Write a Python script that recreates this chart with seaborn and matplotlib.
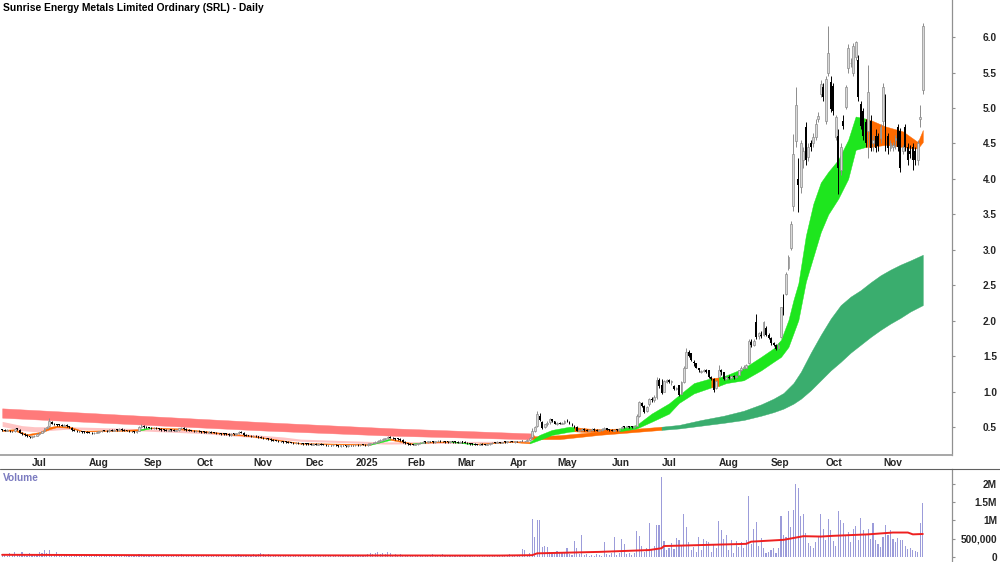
import numpy as np
import pandas as pd
import matplotlib
matplotlib.use("Agg")
import matplotlib.pyplot as plt
from matplotlib.lines import Line2D
import seaborn as sns

title = "Sunrise Energy Metals Limited Ordinary (SRL) - Daily"
first_day = "2024-06-13"
last_day = "2025-11-25"
holidays = ["2024-12-25", "2024-12-26", "2025-01-01", "2025-01-27",
            "2025-04-18", "2025-04-21", "2025-04-25", "2025-06-09"]

opens = [
    .46,.46,.45,.45,.44,.44,.47,.46,.42,.40, .39,.37,.36,.37,.38,.40,.42,.44,.48,.51,
    .57,.55,.54,.53,.53,.52,.53,.51,.49,.46, .45,.44,.44,.43,.43,.42,.42,.41,.42,.43,
    .44,.45,.45,.44,.46,.45,.46,.46,.47,.46, .45,.45,.44,.44,.43,.45,.50,.52,.50,.49,
    .49,.48,.49,.48,.47,.46,.46,.45,.46,.46, .45,.46,.48,.49,.47,.46,.45,.45,.44,.45,
    .44,.43,.43,.42,.43,.42,.42,.41,.41,.40, .40,.40,.39,.40,.40,.41,.43,.42,.39,.38,
    .38,.37,.38,.37,.36,.35,.34,.34,.33,.32, .31,.31,.30,.30,.29,.29,.28,.28,.27,.28,
    .27,.27,.26,.26,.26,.25,.26,.25,.26,.25, .25,.24,.24,.24,.25,.24,.23,.24,.24,.23,
    .24,.24,.24,.25,.24,.25,.25,.24,.26,.27, .28,.29,.31,.32,.33,.34,.36,.35,.34,.33,
    .33,.32,.29,.27,.26,.25,.25,.26,.27,.28, .29,.29,.30,.30,.29,.30,.31,.30,.30,.29,
    .29,.30,.29,.29,.28,.29,.29,.28,.27,.26, .26,.25,.25,.26,.25,.25,.26,.27,.28,.28,
    .28,.28,.29,.29,.30,.30,.29,.30,.30,.31, .30,.31,.32,.36,.45,.52,.66,.57,.50,.54,
    .57,.61,.58,.55,.56,.55,.56,.59,.57,.55, .52,.50,.45,.46,.47,.46,.45,.46,.47,.46,
    .45,.46,.47,.48,.46,.46,.45,.46,.46,.48, .50,.50,.51,.50,.50,.52,.66,.84,.80,.72,
    .82,.89,.88,.92,1.16,1.10,1.00,1.14,1.16,1.13, 1.08,1.04,1.09,.97,1.13,1.34,1.56,1.54,1.42,1.40,
    1.33,1.28,1.29,1.31,1.30,1.20,1.18,1.05,1.21,1.30, 1.27,1.18,1.21,1.19,1.22,1.20,1.24,1.30,1.34,1.34,
    1.40,1.70,1.66,1.98,1.78,1.80,1.80,1.90,1.80,1.75, 1.68,1.66,1.62,1.77,2.33,2.38,2.75,3.03,3.62,4.54,
    4.00,3.88,4.26,4.73,4.31,4.50,4.50,4.59,4.85,5.20, 5.29,4.82,5.50,5.36,5.31,4.59,4.61,4.12,4.82,5.01,
    5.57,5.63,5.50,5.72,5.67,5.05,4.96,4.80,4.68,4.82, 4.50,4.61,4.61,4.57,4.82,5.15,4.61,4.43,4.45,4.55,
    4.73,4.68,4.40,4.73,4.45,4.40,4.45,4.40,4.26,4.85, 5.25]
highs = [
    .47,.47,.47,.46,.45,.49,.48,.47,.43,.41, .40,.38,.38,.39,.41,.43,.45,.49,.52,.63,
    .58,.56,.55,.54,.54,.54,.54,.52,.50,.47, .46,.45,.45,.44,.44,.43,.43,.43,.44,.45,
    .46,.46,.46,.47,.47,.47,.47,.48,.48,.47, .46,.46,.45,.45,.45,.52,.54,.53,.51,.50,
    .50,.50,.50,.49,.48,.47,.47,.47,.47,.47, .47,.49,.50,.50,.48,.47,.46,.46,.46,.46,
    .45,.44,.44,.44,.44,.43,.43,.42,.42,.41, .41,.41,.41,.41,.42,.44,.44,.43,.40,.39,
    .39,.39,.39,.38,.37,.36,.35,.35,.34,.33, .32,.32,.31,.31,.30,.30,.29,.29,.29,.29,
    .28,.28,.27,.27,.27,.27,.27,.27,.27,.26, .26,.25,.25,.26,.26,.25,.25,.25,.25,.25,
    .25,.25,.26,.26,.26,.26,.26,.27,.28,.29, .30,.32,.33,.34,.35,.38,.37,.36,.35,.34,
    .34,.33,.30,.28,.27,.26,.27,.28,.29,.30, .30,.31,.31,.31,.31,.32,.32,.31,.31,.30,
    .31,.31,.30,.30,.30,.30,.30,.29,.28,.27, .27,.26,.27,.27,.26,.27,.28,.29,.29,.30,
    .29,.29,.30,.30,.31,.31,.30,.31,.31,.32, .31,.33,.36,.48,.52,.73,.70,.59,.55,.58,
    .63,.62,.59,.57,.57,.57,.60,.61,.58,.56, .53,.51,.47,.48,.48,.47,.47,.48,.48,.47,
    .47,.48,.50,.49,.47,.47,.47,.47,.48,.51, .51,.52,.52,.51,.52,.68,.87,.86,.81,.80,
    .91,.92,.95,1.20,1.19,1.18,1.17,1.18,1.18,1.16, 1.10,1.07,1.10,1.15,1.36,1.61,1.58,1.55,1.44,1.41,
    1.34,1.31,1.32,1.32,1.31,1.22,1.19,1.16,1.38,1.32, 1.28,1.22,1.23,1.22,1.23,1.23,1.31,1.36,1.37,1.39,
    1.74,1.74,1.74,2.10,1.84,1.86,2.00,1.93,1.82,1.77, 1.70,1.67,1.68,2.20,2.38,2.68,2.92,3.40,4.64,5.29,
    4.30,4.55,4.45,4.80,4.50,4.55,4.65,4.85,4.95,5.40, 5.35,5.45,6.16,5.45,5.35,4.90,4.70,4.50,4.90,5.32,
    5.90,5.70,5.92,5.95,5.75,5.10,5.00,4.85,5.60,4.90, 4.62,4.70,4.65,4.78,5.35,5.20,4.65,4.55,4.52,4.62,
    4.78,4.72,4.48,4.78,4.50,4.48,4.50,4.45,4.55,5.04, 6.20]
lows = [
    .45,.44,.44,.43,.43,.43,.46,.41,.39,.38, .36,.35,.35,.36,.37,.39,.41,.43,.47,.50,
    .54,.53,.52,.52,.51,.51,.50,.49,.45,.44, .43,.43,.42,.42,.41,.41,.40,.40,.41,.42,
    .43,.44,.43,.43,.44,.44,.45,.45,.45,.44, .44,.43,.43,.42,.42,.44,.49,.49,.48,.48,
    .47,.47,.47,.46,.45,.45,.44,.44,.45,.44, .44,.45,.47,.46,.45,.44,.44,.43,.43,.43,
    .42,.42,.41,.41,.41,.41,.40,.40,.39,.39, .39,.38,.38,.39,.39,.40,.41,.38,.37,.37,
    .36,.36,.36,.35,.34,.33,.33,.32,.31,.30, .30,.29,.29,.28,.28,.27,.27,.26,.26,.26,
    .26,.25,.25,.25,.24,.24,.24,.24,.24,.24, .23,.23,.23,.23,.23,.22,.22,.23,.22,.22,
    .23,.23,.23,.23,.23,.24,.23,.23,.25,.26, .27,.28,.30,.31,.32,.33,.34,.33,.32,.32,
    .31,.28,.26,.25,.24,.24,.24,.25,.26,.27, .28,.28,.29,.28,.28,.29,.29,.29,.28,.28,
    .28,.28,.28,.27,.27,.28,.27,.26,.25,.25, .24,.24,.24,.24,.24,.24,.25,.26,.27,.27,
    .27,.28,.28,.28,.29,.29,.28,.29,.29,.30, .29,.30,.31,.35,.43,.50,.58,.47,.48,.52,
    .55,.57,.54,.53,.54,.54,.55,.57,.54,.52, .48,.44,.44,.45,.45,.44,.44,.45,.45,.45,
    .44,.45,.46,.46,.45,.44,.44,.45,.45,.47, .49,.49,.49,.49,.49,.51,.64,.78,.70,.71,
    .80,.86,.86,.90,1.05,.96,.99,1.12,1.12,1.10, 1.02,1.02,.94,.96,1.12,1.33,1.49,1.43,1.36,1.33,
    1.28,1.26,1.27,1.26,1.19,1.17,1.00,1.03,1.20,1.24, 1.17,1.17,1.18,1.18,1.18,1.19,1.23,1.29,1.32,1.33,
    1.39,1.63,1.64,1.74,1.74,1.76,1.79,1.78,1.74,1.66, 1.64,1.58,1.60,1.75,2.08,2.36,2.72,3.00,3.55,4.45,
    3.53,3.80,4.15,4.20,4.25,4.40,4.45,4.55,4.80,5.15, 5.10,4.78,5.45,4.95,4.90,4.55,3.79,4.05,4.70,4.98,
    5.50,5.58,5.45,5.68,5.10,4.70,4.55,4.45,4.30,4.40, 4.40,4.38,4.40,4.50,4.75,4.40,4.35,4.40,4.40,4.42,
    4.40,4.10,4.35,4.40,4.20,4.30,4.12,4.20,4.20,4.73, 5.20]
closes = [
    .46,.45,.46,.44,.44,.47,.47,.42,.40,.39, .37,.36,.37,.38,.40,.42,.44,.48,.50,.58,
    .55,.54,.53,.53,.52,.53,.51,.50,.46,.45, .44,.44,.43,.43,.42,.42,.41,.42,.43,.44,
    .45,.45,.44,.46,.45,.46,.46,.47,.46,.45, .45,.44,.44,.43,.44,.50,.52,.50,.49,.49,
    .48,.49,.48,.47,.46,.46,.45,.46,.46,.45, .46,.48,.49,.47,.46,.45,.45,.44,.45,.44,
    .43,.43,.42,.43,.42,.42,.41,.41,.40,.40, .40,.39,.40,.40,.41,.43,.42,.39,.38,.38,
    .37,.38,.37,.36,.35,.34,.34,.33,.32,.31, .31,.30,.30,.29,.29,.28,.28,.27,.28,.27,
    .27,.26,.26,.26,.25,.26,.25,.26,.25,.25, .24,.24,.24,.25,.24,.23,.24,.24,.23,.24,
    .24,.24,.25,.24,.25,.25,.24,.26,.27,.28, .29,.31,.32,.33,.34,.36,.35,.34,.33,.33,
    .32,.29,.27,.26,.25,.25,.26,.27,.28,.29, .29,.30,.30,.29,.30,.31,.30,.30,.29,.29,
    .30,.29,.29,.28,.29,.29,.28,.27,.26,.26, .25,.25,.26,.25,.25,.26,.27,.28,.28,.29,
    .28,.29,.29,.30,.30,.29,.30,.30,.31,.30, .31,.32,.35,.44,.50,.69,.60,.48,.54,.56,
    .62,.59,.55,.56,.55,.56,.59,.58,.55,.54, .50,.45,.46,.47,.46,.45,.46,.47,.46,.45,
    .46,.47,.48,.46,.46,.45,.46,.46,.47,.50, .50,.51,.50,.50,.51,.66,.85,.80,.71,.78,
    .89,.88,.93,1.17,1.08,.98,1.15,1.16,1.13,1.15, 1.04,1.05,.95,1.13,1.34,1.56,1.50,1.44,1.40,1.34,
    1.30,1.29,1.31,1.28,1.20,1.18,1.02,1.15,1.31,1.27, 1.18,1.21,1.19,1.22,1.20,1.22,1.30,1.34,1.35,1.38,
    1.72,1.66,1.72,1.77,1.82,1.79,1.98,1.80,1.76,1.68, 1.66,1.60,1.66,2.19,2.10,2.66,2.90,3.37,4.35,5.04,
    3.91,4.50,4.40,4.26,4.45,4.45,4.59,4.78,4.89,5.34, 5.15,5.41,5.77,4.99,4.96,4.87,4.15,4.45,4.75,5.29,
    5.84,5.64,5.88,5.93,5.15,4.75,4.61,4.50,5.22,4.43, 4.55,4.43,4.47,4.73,5.29,4.45,4.43,4.50,4.48,4.58,
    4.45,4.16,4.45,4.45,4.26,4.35,4.26,4.26,4.50,4.87, 6.16]
# volume in thousands of shares
volume_k = [
    60,90,40,120,70,150,80,50,130,60, 40,110,70,90,60,140,100,180,120,200,
    90,60,150,70,40,80,50,30,60,40, 70,30,50,20,40,60,30,50,80,40,
    30,50,20,60,40,30,50,20,40,30, 40,20,30,50,40,90,70,40,30,50,
    20,40,30,20,60,30,20,40,50,30, 20,60,80,40,30,20,50,30,20,40,
    30,20,40,20,30,50,20,30,40,20, 30,20,60,40,30,70,40,20,50,30,
    40,80,60,90,110,70,50,90,60,40, 30,50,20,40,30,60,20,30,40,20,
    30,20,40,30,20,50,30,20,40,30, 20,30,40,20,30,50,60,20,40,30,
    30,40,20,60,40,30,50,90,120,70, 100,130,80,110,90,140,100,60,80,50,
    70,60,40,30,50,40,60,30,40,50, 30,60,40,80,50,30,40,70,30,40,
    50,30,60,40,30,50,40,30,60,40, 30,50,20,40,60,30,40,50,30,40,
    40,60,30,50,70,40,50,30,60,210, 190,50,100,1040,560,1020,1020,280,300,270,
    140,150,130,160,120,140,100,260,80,60, 440,240,80,600,50,80,30,60,40,90,
    50,30,400,70,50,100,540,60,120,490, 350,80,120,50,100,720,580,310,150,260,
    920,200,300,890,890,2180,440,180,240,370, 220,510,470,300,1180,830,400,200,280,150,
    540,200,490,450,420,150,350,250,980,730, 490,600,200,470,120,450,280,400,250,470,
    1670,350,780,960,300,530,240,120,150,190, 250,100,250,1120,600,560,1260,830,1280,2010,
    1880,1120,1180,650,370,300,250,420,560,1180, 780,470,1050,730,440,300,1270,1020,920,600,
    690,400,780,850,470,1080,750,600,780,490, 940,470,350,280,560,890,600,730,480,420,
    510,470,470,300,220,260,190,170,140,920, 1490]

# moving-average ribbons, read at session numbers
long_idx = [0, 53, 106, 157, 213, 214, 224, 240, 256, 265, 272, 281, 290, 298, 305, 310, 314, 318, 321,
            325, 329, 333, 337, 341, 345, 349, 353, 357, 361, 365, 370]
long_lo = [.632, .54, .45, .378, .327, .33, .33, .39, .435, .46, .48, .52, .56, .60, .66, .71, .76, .83, .90,
           1.02, 1.16, 1.30, 1.42, 1.55, 1.66, 1.77, 1.87, 1.96, 2.04, 2.13, 2.22]
long_hi = [.764, .665, .567, .482, .41, .37, .385, .435, .48, .505, .53, .60, .66, .73, .82, .90, .98, 1.12, 1.28,
           1.55, 1.80, 2.03, 2.22, 2.34, 2.43, 2.54, 2.64, 2.72, 2.79, 2.85, 2.93]
long_col = "rrrrooooo" + "d" * 21

pink_idx = [0, 8, 13, 26, 53, 80, 113, 120, 154, 200, 212]
pink_lo = [.51, .45, .435, .47, .45, .41, .32, .30, .26, .28, .30]
pink_hi = [.58, .52, .505, .505, .48, .45, .36, .33, .29, .30, .31]

short_idx = [0, 5, 10, 15, 19, 22, 27, 32, 45, 55, 60, 72, 90, 100, 120, 148, 156, 165, 170, 180,
             190, 205, 212, 216, 221, 228, 230, 235, 241, 248, 255, 261, 268, 272, 278, 285, 288, 291, 298, 305,
             310, 313, 316, 318, 320, 323, 326, 329, 332, 336, 340, 343, 347, 349, 355, 362, 366, 368, 370]
short_lo = [.445, .45, .38, .41, .47, .50, .49, .44, .445, .45, .485, .465, .40, .37, .265, .25, .32, .26, .28, .29,
            .255, .29, .27, .32, .39, .435, .44, .43, .43, .44, .48, .575, .69, .84, .975, 1.06, 1.08, 1.12, 1.16, 1.30,
            1.42, 1.49, 1.63, 1.82, 2.01, 2.55, 2.90, 3.25, 3.50, 3.72, 4.00, 4.41, 4.45, 4.45, 4.48, 4.45, 4.43, 4.43, 4.52]
short_hi = [.46, .47, .40, .43, .50, .52, .51, .45, .455, .47, .495, .48, .41, .38, .275, .26, .34, .27, .29, .30,
            .265, .30, .29, .39, .46, .505, .50, .48, .47, .48, .53, .69, .835, .95, 1.12, 1.19, 1.20, 1.23, 1.33, 1.49,
            1.61, 1.73, 2.01, 2.29, 2.53, 3.20, 3.65, 3.95, 4.10, 4.27, 4.55, 4.88, 4.85, 4.83, 4.74, 4.67, 4.57, 4.52, 4.69]
short_col = "o" * 9 + "g" + "o" * 5 + "g" + "o" + "g" + "o" + "g" + "oo" + "gggg" + "ooo" + "g" * 6 + "o" + "g" * 16 + "o" * 6

vma_idx = [0, 60, 120, 180, 200, 213, 215, 240, 260, 265, 266, 299, 301, 314, 322, 329, 334, 348, 358, 364, 366, 370]
vma_k = [60, 50, 45, 40, 40, 50, 100, 140, 190, 240, 300, 360, 420, 470, 570, 560, 580, 620, 670, 670, 620, 630]

band_colors = {"r": "#ff7a7a", "o": "#ff6a00", "d": "#3aad6e", "g": "#1ee61e"}

sns.set_style("white")
plt.rcParams['font.family'] = ['Liberation Sans', 'DejaVu Sans']
plt.rcParams['font.weight'] = 'bold'
plt.rcParams['font.size'] = 7.3

days = pd.bdate_range(first_day, last_day)
days = days[~days.isin(pd.to_datetime(holidays))]
n = len(days)
x = np.arange(n)
o, h, l, c = (np.array(a) for a in (opens, highs, lows, closes))
vol = np.array(volume_k) * 1000.0

fig = plt.figure(figsize=(10, 5.62), dpi=100)
ax = fig.add_axes([0, 107 / 562, 0.952, 455 / 562])
axv = fig.add_axes([0, 0, 0.952, 93 / 562])


def draw_band(idx, lo, hi, cols, z):
    # join runs of the same colour into one fill
    start = 0
    for k in range(1, len(cols) + 1):
        if k == len(cols) or cols[k] != cols[start]:
            sl = slice(start, k + 1)
            ax.fill_between(idx[sl], lo[sl], hi[sl], color=band_colors[cols[start]],
                            lw=0.3, edgecolor=band_colors[cols[start]], zorder=z)
            start = k


draw_band(long_idx, long_lo, long_hi, long_col, 1)
ax.fill_between(pink_idx, pink_lo, pink_hi, color="#ffc4c4", lw=0, zorder=1.5)
draw_band(short_idx, short_lo, short_hi, short_col, 2)

# candles
up = c > o
body_lo = np.minimum(o, c)
body_h = np.maximum(np.abs(c - o), 0.01)
ax.vlines(x[up], l[up], h[up], color="#8c8c8c", lw=0.7, zorder=3)
ax.vlines(x[~up], l[~up], h[~up], color="black", lw=0.7, zorder=3)
ax.bar(x[up], body_h[up], bottom=body_lo[up], width=0.75, facecolor="#d8d8d8",
       edgecolor="#8c8c8c", linewidth=0.5, zorder=4)
ax.bar(x[~up], body_h[~up], bottom=body_lo[~up], width=0.75, color="black", lw=0, zorder=4)

# month ticks
starts = [i for i in range(1, n) if days[i].month != days[i - 1].month]
labels = ["2025" if days[i].month == 1 else days[i].strftime("%b") for i in starts]

s = (883 - 32) / (starts[-1] - starts[0])
x_left = starts[0] - 32 / s
x_right = x_left + 952 / s

ax.set_xlim(x_left, x_right)
ax.set_ylim(0.106, 6.523)
ax.set_xticks(starts)
ax.set_xticklabels(labels, ha="left")
ax.yaxis.tick_right()
ax.set_yticks(np.arange(0.5, 6.01, 0.5))
ax.set_yticklabels([f"{v:.1f}" for v in np.arange(0.5, 6.01, 0.5)], ha="right")
ax.tick_params(axis="x", length=2, color="#909090", pad=0.5, labelsize=7.3)
ax.tick_params(axis="y", length=2, color="#909090", pad=30.4, labelsize=7.3)
for side in ["top", "left"]:
    ax.spines[side].set_visible(False)
ax.spines["bottom"].set_color("#a0a0a0")
ax.spines["bottom"].set_linewidth(1.3)
ax.spines["right"].set_color("#909090")
ax.spines["right"].set_linewidth(0.9)

# volume panel
axv.bar(x, vol, width=0.45, color="#9c9cda", lw=0, zorder=2)
sns.lineplot(x=vma_idx, y=np.array(vma_k) * 1000.0, ax=axv, color="#ee2020", lw=1.4, zorder=3)
axv.set_xlim(x_left, x_right)
axv.set_ylim(-0.137e6, 2.41e6)
axv.set_xticks([])
axv.yaxis.tick_right()
vt = [0, 500000, 1000000, 1500000, 2000000]
axv.set_yticks(vt)
axv.set_yticklabels(["0", "500,000", "1M", "1.5M", "2M"], ha="right")
axv.tick_params(axis="y", length=2, color="#909090", pad=30.4, labelsize=7.3)
for side in ["top", "left", "bottom"]:
    axv.spines[side].set_visible(False)
axv.spines["right"].set_color("#909090")
axv.spines["right"].set_linewidth(0.9)
axv.set_xlabel("")
axv.set_ylabel("")

fig.add_artist(Line2D([0, 1], [1 - 469 / 562] * 2, color="#606060", lw=0.8))
fig.text(0.003, 1 - 8 / 562, title, ha="left", va="center", color="black", fontsize=7.4)
fig.text(0.003, 1 - 478 / 562, "Volume", ha="left", va="center", color="#7b7bc0", fontsize=7.3)

fig.savefig("out.png", dpi=100)
